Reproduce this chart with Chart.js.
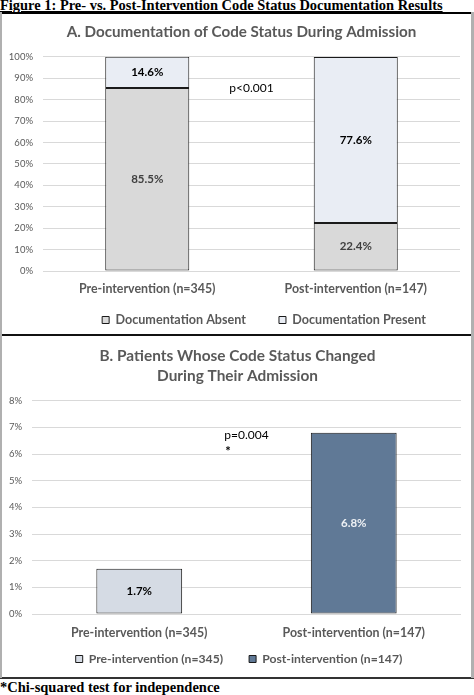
<!DOCTYPE html>
<html><head><meta charset="utf-8">
<script src="https://cdn.jsdelivr.net/npm/chart.js@4.4.1/dist/chart.umd.min.js"></script>
<style>
html,body{margin:0;padding:0;background:#fff;width:474px;height:695px;overflow:hidden;position:relative}
#figtitle{position:absolute;left:0;top:-1.8px;font:bold 14.45px "Liberation Serif";line-height:14px;text-decoration:underline;white-space:nowrap;color:#000}
#foot{position:absolute;left:0;top:680px;font:bold 14.5px "Liberation Serif";line-height:14px;white-space:nowrap;color:#000}
canvas{position:absolute;left:0}
#cA{top:13px}
#cB{top:335px}
.hline{position:absolute;left:0;width:474px}
.side{position:absolute;top:12px;width:2px;height:666px;background:#b0b0b0}
</style></head>
<body>
<div id="figtitle">Figure 1: Pre- vs. Post-Intervention Code Status Documentation Results</div>
<canvas id="cA" width="474" height="320"></canvas>
<canvas id="cB" width="474" height="342"></canvas>
<div class="hline" style="top:12px;height:1.5px;background:#000"></div>
<div class="hline" style="top:334px;height:2px;background:#111"></div>
<div class="hline" style="top:677px;height:1.5px;background:#333"></div>
<div class="side" style="left:0"></div>
<div class="side" style="left:471px;width:3px"></div>
<div id="foot">*Chi-squared test for independence</div>
<script>
// ---- data ----
const categories = ['Pre-intervention (n=345)', 'Post-intervention (n=147)'];
const titleA = 'A. Documentation of Code Status During Admission';
const seriesA = ['Documentation Absent', 'Documentation Present'];
const docAbsent = [85.5, 22.4];
const docPresent = [14.6, 77.6];
const yMaxA = 100, yStepA = 10;
const pValueA = ['p<0.001'];
const pValueAPos = 85.5;

const titleB = ['B. Patients Whose Code Status Changed', 'During Their Admission'];
const seriesB = ['Pre-intervention (n=345)', 'Post-intervention (n=147)'];
const codeChanged = [1.7, 6.8];
const yMaxB = 8, yStepB = 1;
const pValueB = ['p=0.004', '*'];
const pValueBPos = 6.72;

Chart.defaults.font.family = 'Lato';

// ---- plugins ----
const valueLabels = {
  id: 'valueLabels',
  afterDatasetsDraw(chart) {
    const ctx = chart.ctx;
    chart.data.datasets.forEach((ds, i) => {
      const meta = chart.getDatasetMeta(i);
      meta.data.forEach((bar, j) => {
        const v = ds.data[j];
        if (v == null) return;
        const p = bar.getProps(['x', 'y', 'base'], true);
        ctx.save();
        ctx.font = 'bold 11.5px Lato';
        ctx.fillStyle = ds.labelColor;
        ctx.textAlign = 'center';
        ctx.textBaseline = 'middle';
        ctx.fillText(v.toFixed(1) + '%', p.x, (Math.max(p.y, chart.chartArea.top) + p.base) / 2);
        ctx.restore();
      });
    });
  }
};
const pNote = {
  id: 'pNote',
  afterDraw(chart, args, opts) {
    const ctx = chart.ctx;
    const cx = chart.scales.x.getPixelForValue(0.5);
    const cy = chart.scales.y.getPixelForValue(opts.value);
    ctx.save();
    ctx.font = '12px Lato';
    ctx.fillStyle = '#000';
    ctx.textBaseline = 'middle';
    ctx.textAlign = 'left';
    const w = ctx.measureText(opts.lines[0]).width;
    const left = cx - w / 2;
    ctx.fillText(opts.lines[0], left, cy);
    if (opts.lines[1]) {
      ctx.font = 'bold 13px Lato';
      ctx.fillText(opts.lines[1], left + 1, cy + 17);
    }
    ctx.restore();
  }
};
const blockShift = {
  id: 'blockShift',
  afterLayout(chart, args, opts) {
    const l = chart.legend;
    if (l) { l.left += opts.legendDx; l.right += opts.legendDx; l.top += opts.legendDy; l.bottom += opts.legendDy; }
    const t = chart.titleBlock;
    if (t) { t.left += opts.titleDx; t.right += opts.titleDx; }
  }
};

function yScale(max, step, width) {
  return {
    stacked: true, min: 0, max: max,
    ticks: { stepSize: step, padding: 10, color: '#595959', font: { size: 9.5 }, callback: v => v + '%' },
    grid: { color: '#d9d9d9', drawTicks: false },
    border: { display: false },
    afterFit(s) { s.width = width; }
  };
}
function xScale(height, pad) {
  return {
    stacked: true,
    grid: { display: false, drawTicks: false }, border: { display: false },
    ticks: { padding: pad, color: '#595959', font: { size: 12.4, weight: 'bold' } },
    afterFit(s) { s.height = height; }
  };
}

// ---- chart A ----
new Chart(document.getElementById('cA'), {
  type: 'bar',
  data: {
    labels: categories,
    datasets: [
      { label: seriesA[0], data: docAbsent, backgroundColor: '#d9d9d9', borderColor: '#1a1a1a', borderWidth: 1, borderSkipped: false, labelColor: '#404040' },
      { label: seriesA[1], data: docPresent, backgroundColor: '#e9edf4', borderColor: '#1a1a1a', borderWidth: 1, borderSkipped: false, labelColor: '#000' }
    ]
  },
  options: {
    responsive: false, animation: false, devicePixelRatio: 1,
    layout: { padding: { left: 0, right: 14, top: 0, bottom: -30.6 } },
    datasets: { bar: { categoryPercentage: 1, barPercentage: 0.403 } },
    scales: { x: xScale(37, 10.9), y: yScale(yMaxA, yStepA, 43) },
    plugins: {
      title: { display: true, text: titleA, color: '#595959', font: { size: 15.2, weight: 'bold' }, padding: { top: 10, bottom: 15.7 } },
      legend: { position: 'bottom', fullSize: false, labels: { boxWidth: 7, boxHeight: 7, padding: 33, color: '#595959', font: { size: 12.6, weight: 'bold' } } },
      tooltip: { enabled: false },
      pNote: { lines: pValueA, value: pValueAPos },
      blockShift: { legendDx: 12.5, legendDy: -27.3, titleDx: 11.5 }
    }
  },
  plugins: [valueLabels, pNote, blockShift]
});

// ---- chart B ----
new Chart(document.getElementById('cB'), {
  type: 'bar',
  data: {
    labels: categories,
    datasets: [
      { label: seriesB[0], data: [codeChanged[0], null], backgroundColor: '#d5dbe4', borderColor: '#1a1a1a', borderWidth: 1, borderSkipped: false, labelColor: '#000' },
      { label: seriesB[1], data: [null, codeChanged[1]], backgroundColor: '#607996', borderColor: '#1a1a1a', borderWidth: 1, borderSkipped: false, labelColor: '#eef1f5' }
    ]
  },
  options: {
    responsive: false, animation: false, devicePixelRatio: 1,
    layout: { padding: { left: 0, right: 13, top: 0, bottom: -17.7 } },
    datasets: { bar: { categoryPercentage: 1, barPercentage: 0.40 } },
    scales: { x: xScale(32.5, 11.3), y: yScale(yMaxB, yStepB, 32) },
    plugins: {
      title: { display: true, text: titleB, color: '#595959', font: { size: 15.4, weight: 'bold', lineHeight: 1.3 }, padding: { top: 10.7, bottom: 15 } },
      legend: { position: 'bottom', fullSize: false, labels: { boxWidth: 7, boxHeight: 7, padding: 26, color: '#595959', font: { size: 12.2, weight: 'bold' } } },
      tooltip: { enabled: false },
      pNote: { lines: pValueB, value: pValueBPos },
      blockShift: { legendDx: -7.5, legendDy: -19.6, titleDx: 7 }
    }
  },
  plugins: [valueLabels, pNote, blockShift]
});
</script>
</body></html>
